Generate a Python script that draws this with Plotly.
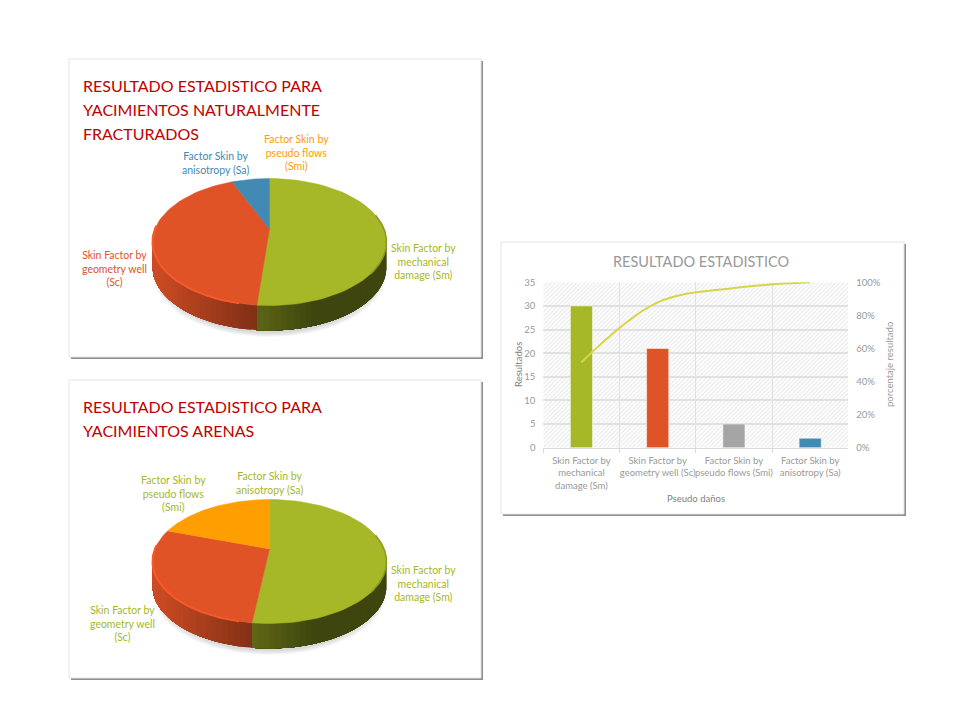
import numpy as np
import plotly.graph_objects as go

W, H = 960, 720

# valores
pie_labels = ["Skin Factor by<br>mechanical<br>damage (Sm)", "Skin Factor by<br>geometry well<br>(Sc)",
              "Factor Skin by<br>pseudo flows<br>(Smi)", "Factor Skin by<br>anisotropy (Sa)"]
pie_values_nf = [30, 25, 0, 3]
pie_values_ar = [52.4, 30.8, 16.8, 0]

bar_categories = ["Skin Factor by<br>mechanical<br>damage (Sm)", "Skin Factor by<br>geometry well (Sc)",
                  "Factor Skin by<br>pseudo flows (Smi)", "Factor Skin by<br>anisotropy (Sa)"]
bar_values = [30, 21, 5, 2]
pct_values = [51.7, 87.9, 96.6, 100]

GREEN, RED, ORANGE, BLUE, GREY, LINE = "#A6B727", "#DF5327", "#FE9E00", "#418AB3", "#A5A5A5", "#D7D447"
pie_colors = [GREEN, RED, ORANGE, BLUE]
bar_colors = [GREEN, RED, GREY, BLUE]
TEXT_FONT = "Lato"

# fade of the side wall against the x position, for green and red slices
wall_fade = {0: ([-0.2, 0.4], [0.6, 0.38]), 1: ([-1.0, -0.1], [0.93, 0.58])}


def px(x):
    return x / W


def py(y):
    return 1 - y / H


def shade(color, f):
    r, g, b = [int(color[i:i + 2], 16) for i in (1, 3, 5)]
    return f"rgb({int(r * f)},{int(g * f)},{int(b * f)})"


def arc(a0, a1, n=60):
    # angle in degrees, clockwise from the top of the pie
    t = np.radians(np.linspace(a0, a1, n))
    return np.sin(t), np.cos(t)


fig = go.Figure()
shapes = []
notes = []


def panel(x0, y0, x1, y1):
    shapes.append(dict(type="rect", xref="paper", yref="paper", layer="below", x0=px(x0 + 2), x1=px(x1 + 1),
                       y0=py(y0 + 2), y1=py(y1 + 1), fillcolor="#8E8E8E", line_width=0))
    shapes.append(dict(type="rect", xref="paper", yref="paper", layer="below", x0=px(x0), x1=px(x1 - 1),
                       y0=py(y0), y1=py(y1 - 1), fillcolor="white", line=dict(color="#E4E4E4", width=1)))


def note(text, x, y, size, color, xanchor="center", angle=0):
    notes.append(dict(text=text, x=px(x), y=py(y), xref="paper", yref="paper", showarrow=False, xanchor=xanchor,
                      yanchor="middle", align="center", textangle=angle,
                      font=dict(size=size, color=color, family=TEXT_FONT)))


def pie_3d(values, b, apex_dy, depth, xname, yname):
    common = dict(xaxis=xname, yaxis=yname, mode="lines", hoverinfo="skip", showlegend=False)
    total = sum(values)
    drop = depth / b
    apex = apex_dy / b

    # soft shadow under the pie
    for grow, alpha in [(1.0, 0.04), (0.98, 0.05), (0.95, 0.06)]:
        sx, sy = arc(0, 360, 120)
        fig.add_trace(go.Scatter(x=sx * grow, y=sy * grow - drop - 0.1, fill="toself", line_width=0,
                                 fillcolor=f"rgba(0,0,0,{alpha})", **common))

    start = 0
    spans = []
    for i, v in enumerate(values):
        spans.append((i, start, start + v / total * 360))
        start += v / total * 360

    # side wall: each band runs to the end of the slice and the next one paints over it
    for i, a0, a1 in spans:
        if i not in wall_fade or a0 >= 270:
            continue
        lo, hi = max(a0, 90), min(a1, 270)
        for e0 in np.arange(lo, hi, 3.0):
            ax, ay = arc(e0, hi, 40)
            col = shade(pie_colors[i], float(np.interp(ax[0], *wall_fade[i])))
            fig.add_trace(go.Scatter(x=np.r_[ax, ax[::-1]], y=np.r_[ay, ay[::-1] - drop], fill="toself",
                                     fillcolor=col, line_width=0, **common))

    # top face
    for i, a0, a1 in spans:
        if a1 - a0 <= 0:
            continue
        ax, ay = arc(a0, a1)
        fig.add_trace(go.Scatter(x=np.r_[0, ax, 0], y=np.r_[apex, ay, apex], fill="toself",
                                 fillcolor=pie_colors[i], line=dict(color=pie_colors[i], width=0.5), **common))

    # bevel along the rim
    for i, a0, a1 in spans:
        if i == 1:
            ax, ay = arc(max(a0, 195), min(a1, 285))
            fig.add_trace(go.Scatter(x=ax, y=ay, line=dict(color="#F8592A", width=2), **common))
        if i == 0:
            ax, ay = arc(65, 120)
            fig.add_trace(go.Scatter(x=ax, y=ay, line=dict(color="#8A9A20", width=1.5), **common))


# paneles
panel(69, 59, 482, 358)
panel(69, 380, 482, 679)
panel(501, 242, 905, 515)

# pie charts
pie_3d(pie_values_nf, 63.5, 13, 25, "x", "y")
pie_3d(pie_values_ar, 62, 12.5, 25, "x2", "y2")


def pie_axes(cx, cy, a, b, anchor):
    xa = dict(domain=[px(cx - 1.1 * a), px(cx + 1.1 * a)], range=[-1.1, 1.1], visible=False, fixedrange=True,
              automargin=False, anchor=anchor[1])
    ya = dict(domain=[py(cy + 1.7 * b), py(cy - 1.1 * b)], range=[-1.7, 1.1], visible=False, fixedrange=True,
              automargin=False, anchor=anchor[0])
    return xa, ya


xa1, ya1 = pie_axes(269.5, 242, 117, 63.5, ("x", "y"))
xa2, ya2 = pie_axes(269.5, 561.5, 117, 62, ("x2", "y2"))

# bar chart: the hatched background is one full-height bar per category
HATCH_TOP = 35
fig.add_trace(go.Bar(x=bar_categories, y=[HATCH_TOP] * len(bar_categories), width=1, xaxis="x3", yaxis="y3",
                     marker=dict(color="rgba(0,0,0,0)", line_width=0,
                                 pattern=dict(shape="/", fgcolor="#D6D6D6", bgcolor="rgba(0,0,0,0)", size=3, solidity=0.4)),
                     hoverinfo="skip", showlegend=False))
fig.add_trace(go.Bar(x=bar_categories, y=bar_values, width=0.29, xaxis="x3", yaxis="y3",
                     marker=dict(color=bar_colors, line=dict(color="white", width=0.5)), showlegend=False))
fig.add_trace(go.Scatter(x=bar_categories, y=pct_values, mode="lines", xaxis="x3", yaxis="y4", showlegend=False,
                         line=dict(color=LINE, width=2, shape="spline", smoothing=1.0),
                         hovertemplate="%{y:.0f}%<extra></extra>"))

# textos
for text, y in [("RESULTADO ESTADISTICO PARA", 85), ("YACIMIENTOS NATURALMENTE", 109), ("FRACTURADOS", 133)]:
    note(text, 81, y, 16, "#C00000", "left")
for text, y in [("RESULTADO ESTADISTICO PARA", 406), ("YACIMIENTOS ARENAS", 430)]:
    note(text, 81, y, 16, "#C00000", "left")

note(pie_labels[0], 423, 261, 10.5, GREEN)
note(pie_labels[1], 114, 268, 10.5, RED)
note(pie_labels[2], 296, 152, 10.5, ORANGE)
note(pie_labels[3], 215, 163, 10.5, BLUE)

note(pie_labels[0], 423, 583, 10.5, GREEN)
note(pie_labels[1], 123, 623, 10.5, GREEN)
note(pie_labels[2], 173, 493, 10.5, GREEN)
note(pie_labels[3], 269, 483, 10.5, GREEN)

note("RESULTADO ESTADISTICO", 701, 261, 14.5, "#999999")
note("Resultados", 518, 365, 9.5, "#7F7F7F", angle=-90)
note("porcentaje resultado", 889, 365, 9.5, "#999999", angle=-90)
note("Pseudo daños", 696, 498, 9.5, "#7F7F7F")

tick_font = dict(size=9.5, color="#999999", family=TEXT_FONT)
fig.update_layout(
    width=W, height=H, margin=dict(l=0, r=0, t=0, b=0), paper_bgcolor="white", plot_bgcolor="rgba(0,0,0,0)",
    barmode="overlay", showlegend=False, shapes=shapes, annotations=notes,
    xaxis=xa1, yaxis=ya1, xaxis2=xa2, yaxis2=ya2,
    xaxis3=dict(domain=[px(543.3), px(848.3)], anchor="y3", type="category", tickson="boundaries", showgrid=True,
                gridcolor="#E4E4E4", gridwidth=1, ticks="outside", ticklen=4, tickcolor="#D9D9D9", automargin=False,
                showline=True, linecolor="#D9D9D9", tickfont=tick_font, tickangle=0, ticklabelstandoff=4),
    yaxis3=dict(domain=[py(447.7), py(282.3)], anchor="x3", range=[0, 35], dtick=5, showgrid=True, gridcolor="#E4E4E4",
                gridwidth=1.5, zeroline=False, ticks="outside", ticklen=5, tickcolor="rgba(0,0,0,0)", tickfont=tick_font,
                automargin=False),
    yaxis4=dict(domain=[py(447.7), py(282.3)], anchor="x3", overlaying="y3", side="right", range=[0, 100], dtick=20,
                ticksuffix="%", showgrid=False, zeroline=False, ticks="outside", ticklen=5, automargin=False,
                tickcolor="rgba(0,0,0,0)", tickfont=tick_font),
)

fig.write_html("out.html", config={"displayModeBar": False}, post_script="document.body.style.margin='0';")
